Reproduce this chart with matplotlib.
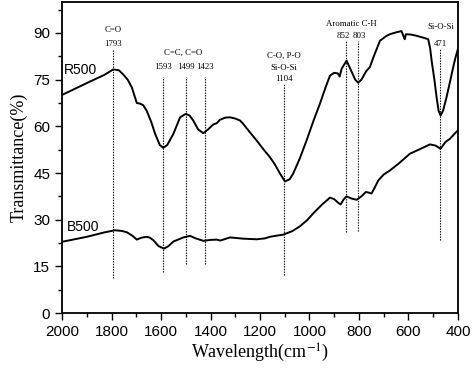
import numpy as np
import matplotlib
matplotlib.use("Agg")
import matplotlib.pyplot as plt
from matplotlib.ticker import MultipleLocator

plt.rcParams["mathtext.fontset"] = "stix"

# --- data (wavenumber cm-1, transmittance %) ---
r500_x = [2000, 1950, 1887, 1830, 1793, 1770, 1752, 1735, 1718, 1698, 1685, 1672,
          1658, 1640, 1624, 1605, 1591, 1575, 1550, 1523, 1500, 1485, 1470, 1450,
          1429, 1410, 1389, 1375, 1362, 1340, 1321, 1300, 1281, 1268, 1240, 1213,
          1185, 1160, 1140, 1119, 1099, 1080, 1066, 1040, 1012, 985, 958, 935, 917,
          900, 885, 878, 870, 850, 835, 815, 803, 790, 770, 756, 740, 715, 690, 675,
          650, 628, 620, 615, 610, 590, 567, 540, 520, 512, 506, 495, 486, 478, 470,
          460, 446, 430, 419, 410, 400]
r500_y = [70.1, 72.0, 74.4, 76.5, 78.3, 78.0, 76.6, 75.0, 72.5, 67.5, 67.3, 66.8,
          65.0, 61.5, 57.6, 54.0, 53.1, 54.0, 57.6, 62.9, 64.0, 63.5, 61.9, 59.0,
          57.8, 59.0, 60.6, 61.0, 62.1, 62.8, 62.9, 62.5, 61.9, 60.8, 58.0, 55.4,
          52.5, 50.1, 47.8, 44.8, 42.3, 43.0, 44.8, 49.5, 55.4, 61.5, 67.2, 72.5, 76.3,
          77.2, 77.0, 76.0, 78.5, 81.1, 78.5, 75.0, 74.0, 75.0, 77.8, 79.0, 82.5, 87.5,
          89.0, 89.6, 90.2, 90.6, 89.0, 88.0, 89.6, 89.5, 89.1, 88.5, 88.0, 85.0, 81.0,
          75.0, 69.3, 65.0, 63.5, 65.0, 69.3, 75.0, 79.0, 82.0, 84.8]

b500_x = [2000, 1900, 1830, 1786, 1760, 1739, 1715, 1698, 1680, 1658, 1645, 1631,
          1610, 1588, 1570, 1550, 1537, 1510, 1483, 1460, 1429, 1400, 1375, 1360,
          1321, 1268, 1213, 1180, 1160, 1130, 1106, 1070, 1038, 1010, 985, 950, 917,
          900, 885, 874, 862, 850, 830, 809, 790, 772, 760, 749, 735, 722, 700, 675,
          640, 594, 550, 513, 490, 470, 450, 432, 415, 400]
b500_y = [22.9, 24.5, 25.9, 26.6, 26.4, 26.0, 24.8, 23.6, 24.2, 24.5, 24.2, 23.4,
          21.5, 20.7, 21.5, 23.0, 23.4, 24.3, 24.8, 24.0, 23.2, 23.5, 23.6, 23.3,
          24.3, 23.9, 23.7, 24.0, 24.5, 24.9, 25.2, 26.3, 27.9, 29.8, 32.0, 34.8, 37.1,
          36.6, 35.5, 34.9, 36.5, 37.5, 36.8, 36.4, 37.5, 38.9, 38.7, 38.4, 40.5, 42.6,
          44.5, 45.8, 48.0, 51.2, 52.8, 54.2, 53.8, 52.8, 55.0, 56.0, 57.5, 58.7]

# band markers: position, line bottom, line top
band_pos = [1793, 1593, 1499, 1423, 1104, 852, 803, 471]
band_low = [11.2, 13.2, 15.7, 15.7, 12.2, 26.0, 26.4, 23.4]
band_high = [84.6, 76.0, 76.0, 76.0, 73.6, 87.5, 87.5, 85.3]

# annotation texts (x, y, text)
labels = [
    (1793, 90.9, "C=O"), (1793, 86.4, "1793"),
    (1512, 83.5, "C=C, C=O"),
    (1593, 79.2, "1593"), (1499, 79.2, "1499"), (1423, 79.2, "1423"),
    (1104, 82.7, "C-O, P-O"), (1104, 78.6, "Si-O-Si"), (1104, 75.2, "1104"),
    (830, 92.8, "Aromatic C-H"), (862, 89.1, "852"), (797, 89.1, "803"),
    (471, 92.0, "Si-O-Si"), (471, 86.6, "471"),
]

sans = ["Liberation Sans", "DejaVu Sans"]
serif = ["Liberation Serif", "DejaVu Serif"]

fig = plt.figure(figsize=(4.74, 3.74), dpi=100)
ax = fig.add_axes([0.131, 0.163, 0.835, 0.832])

ax.plot(r500_x, r500_y, color="black", lw=1.4)
ax.plot(b500_x, b500_y, color="black", lw=1.4)

for x, lo, hi in zip(band_pos, band_low, band_high):
    ax.plot([x, x], [lo, hi], color="black", lw=0.8, ls=(0, (1.2, 1.2)))

for x, y, t in labels:
    ax.text(x, y, t, ha="center", va="center", fontsize=6.3, family=serif)

ax.text(1927, 78.0, "R500", fontsize=10, family=sans, ha="center", va="center")
ax.text(1914, 27.7, "B500", fontsize=10, family=sans, ha="center", va="center")

ax.set_xlim(2000, 400)
ax.set_ylim(0, 100)
ax.xaxis.set_major_locator(MultipleLocator(200))
ax.xaxis.set_minor_locator(MultipleLocator(100))
ax.yaxis.set_major_locator(MultipleLocator(15))
ax.yaxis.set_minor_locator(MultipleLocator(7.5))
ax.tick_params(which="both", direction="out", top=False, right=False, width=1.0)
ax.tick_params(which="major", length=5, labelsize=11)
ax.tick_params(which="minor", length=3)
for lab in ax.get_xticklabels() + ax.get_yticklabels():
    lab.set_family(sans)
for s in ax.spines.values():
    s.set_linewidth(1.3)

ax.set_xlabel("Wavelength(cm$^{-1}$)", fontsize=13, family=serif, labelpad=2)
ax.set_ylabel("Transmittance(%)", fontsize=13, family=serif, labelpad=4)

fig.savefig("out.png", dpi=100)
